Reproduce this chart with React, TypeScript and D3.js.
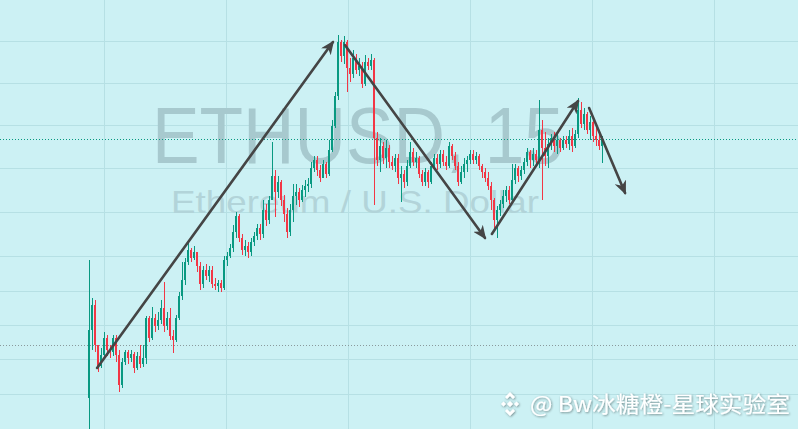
import { useEffect } from 'react'
import * as d3 from 'd3'

const W = 798
const H = 429

// 15m ETHUSD candles, open = previous close
const firstOpen = 1602
const closes = [
  1670, 1695, 1655, 1634, 1645, 1662, 1650, 1648, 1662, 1645, 1615, 1638, 1648, 1642, 1646, 1632, 1644, 1636, 1642, 1682,
  1662, 1682, 1674, 1680, 1692, 1674, 1682, 1664, 1660, 1682, 1704, 1720, 1738, 1750, 1742, 1748, 1734, 1716, 1730, 1724,
  1730, 1716, 1714, 1717, 1712, 1740, 1744, 1752, 1768, 1784, 1762, 1750, 1754, 1748, 1758, 1764, 1772, 1766, 1790, 1780,
  1800, 1824, 1808, 1818, 1800, 1786, 1768, 1790, 1804, 1808, 1800, 1810, 1814, 1816, 1832, 1840, 1830, 1822, 1836, 1826,
  1850, 1874, 1904, 1958, 1944, 1958, 1932, 1926, 1942, 1930, 1934, 1916, 1938, 1934, 1940, 1862, 1840, 1854, 1842, 1852,
  1838, 1834, 1842, 1822, 1826, 1818, 1834, 1848, 1838, 1842, 1826, 1818, 1828, 1818, 1834, 1842, 1836, 1846, 1838, 1834,
  1854, 1844, 1834, 1818, 1828, 1836, 1840, 1846, 1840, 1844, 1834, 1828, 1822, 1814, 1800, 1780, 1790, 1796, 1804, 1810,
  1800, 1820, 1832, 1824, 1830, 1838, 1848, 1840, 1846, 1840, 1870, 1852, 1844, 1856, 1862, 1854, 1860, 1852, 1860, 1856,
  1864, 1854, 1866, 1890, 1876, 1886, 1870, 1878, 1864, 1860, 1854, 1860,
]
const highs = [
  1740, 1702, 1700, 1655, 1652, 1668, 1665, 1655, 1665, 1665, 1650, 1642, 1650, 1650, 1650, 1648, 1648, 1655, 1655, 1684,
  1684, 1693, 1686, 1688, 1700, 1718, 1688, 1692, 1670, 1685, 1708, 1738, 1742, 1760, 1752, 1754, 1748, 1738, 1734, 1736,
  1734, 1734, 1722, 1720, 1720, 1744, 1748, 1756, 1775, 1788, 1786, 1766, 1760, 1758, 1762, 1768, 1776, 1776, 1800, 1796,
  1804, 1858, 1830, 1824, 1820, 1805, 1792, 1796, 1816, 1816, 1812, 1815, 1820, 1822, 1838, 1844, 1844, 1835, 1840, 1838,
  1860, 1880, 1908, 1965, 1960, 1964, 1960, 1942, 1950, 1946, 1942, 1938, 1945, 1942, 1946, 1942, 1868, 1862, 1858, 1860,
  1855, 1844, 1846, 1846, 1834, 1830, 1840, 1858, 1852, 1848, 1844, 1830, 1832, 1830, 1838, 1846, 1846, 1850, 1850, 1844,
  1858, 1856, 1848, 1838, 1834, 1842, 1844, 1850, 1850, 1848, 1846, 1836, 1832, 1828, 1818, 1802, 1794, 1800, 1810, 1814,
  1814, 1836, 1836, 1834, 1834, 1842, 1852, 1850, 1852, 1850, 1900, 1880, 1868, 1862, 1866, 1868, 1866, 1862, 1864, 1864,
  1870, 1872, 1870, 1902, 1898, 1892, 1888, 1884, 1882, 1874, 1866, 1864,
]
const lows = [
  1568, 1650, 1648, 1628, 1632, 1642, 1644, 1642, 1644, 1638, 1608, 1612, 1635, 1636, 1638, 1627, 1630, 1632, 1633, 1636,
  1658, 1660, 1668, 1670, 1676, 1668, 1670, 1660, 1647, 1658, 1680, 1700, 1715, 1735, 1738, 1740, 1728, 1710, 1712, 1720,
  1718, 1712, 1710, 1708, 1708, 1710, 1734, 1742, 1748, 1762, 1758, 1745, 1744, 1742, 1744, 1754, 1760, 1760, 1762, 1774,
  1776, 1800, 1783, 1802, 1794, 1778, 1762, 1764, 1778, 1795, 1793, 1798, 1803, 1808, 1812, 1828, 1824, 1818, 1822, 1822,
  1824, 1848, 1872, 1900, 1938, 1936, 1908, 1918, 1922, 1926, 1924, 1912, 1914, 1930, 1930, 1795, 1834, 1828, 1836, 1832,
  1832, 1830, 1828, 1816, 1798, 1812, 1814, 1832, 1834, 1832, 1822, 1814, 1814, 1812, 1816, 1830, 1830, 1832, 1834, 1830,
  1832, 1840, 1830, 1814, 1816, 1822, 1828, 1836, 1836, 1836, 1830, 1822, 1818, 1810, 1790, 1772, 1762, 1784, 1792, 1798,
  1796, 1798, 1816, 1818, 1820, 1826, 1834, 1832, 1834, 1834, 1832, 1800, 1834, 1832, 1850, 1848, 1846, 1848, 1850, 1852,
  1850, 1848, 1852, 1862, 1872, 1870, 1866, 1860, 1858, 1854, 1850, 1837,
]

// price gridlines and time gridlines (candle index units)
const priceGrid = [1959, 1917, 1875, 1832, 1788, 1744, 1709, 1675, 1641, 1606]
const timeGrid = [5, 45.67, 86.33, 127, 167.67, 208.33]
const lastPrice = 1861
const refPrice = 1655

// drawn arrows: [fromIndex, fromPrice, toIndex, toPrice]
const arrows = [
  [2.7, 1632, 81.3, 1958],
  [85.3, 1955, 132, 1762],
  [134.3, 1766, 163, 1899],
  [166.7, 1892, 178.7, 1807],
]

const UP = '#089981'
const DOWN = '#f23645'

export default function App() {
  useEffect(() => {
    document.body.style.margin = '0'
  }, [])

  const x = d3.scaleLinear().domain([0, closes.length - 1]).range([89, 602])
  const y = d3.scaleLinear().domain([1571, 2000]).range([H, 0])

  const candles = closes.map((c, i) => {
    const o = i === 0 ? firstOpen : closes[i - 1]
    return { i, o, c, h: highs[i], l: lows[i] }
  })

  return (
    <svg width={W} height={H} style={{ display: 'block', position: 'absolute', left: 0, top: 0 }}>
      <defs>
        <marker id="head" viewBox="0 0 14 12" markerWidth={14} markerHeight={12} refX={12} refY={6}
          orient="auto" markerUnits="userSpaceOnUse">
          <path d="M0,0 L14,6 L0,12 L4,6 Z" fill="#454545" />
        </marker>
        <filter id="shadow" x="-10%" y="-30%" width="120%" height="160%">
          <feDropShadow dx="0.8" dy="0.8" stdDeviation="0.8" floodColor="#000" floodOpacity="0.45" />
        </filter>
      </defs>
      <rect width={W} height={H} fill="#ccf1f4" />

      {/* grid */}
      <g stroke="#b6e0e4" strokeWidth={1} shapeRendering="crispEdges">
        {priceGrid.map(p => (
          <line key={p} x1={0} x2={W} y1={Math.round(y(p)) + 0.5} y2={Math.round(y(p)) + 0.5} />
        ))}
        {timeGrid.map(t => (
          <line key={t} y1={0} y2={H} x1={Math.round(x(t)) + 0.5} x2={Math.round(x(t)) + 0.5} />
        ))}
      </g>

      {/* watermark */}
      <text x={152} y={163} fontFamily="Liberation Sans, Arial, sans-serif" fontSize={79}
        fill="#a7c9ce" textLength={412} lengthAdjust="spacingAndGlyphs">ETHUSD, 15</text>
      <text x={171} y={213} fontFamily="Liberation Sans, Arial, sans-serif" fontSize={32}
        fill="#b2d4d9" textLength={368} lengthAdjust="spacingAndGlyphs">Ethereum / U.S. Dollar</text>

      {/* price lines */}
      <line x1={0} x2={W} y1={Math.round(y(lastPrice)) + 0.5} y2={Math.round(y(lastPrice)) + 0.5}
        stroke={UP} strokeWidth={1} strokeDasharray="1 2" shapeRendering="crispEdges" />
      <line x1={0} x2={W} y1={Math.round(y(refPrice)) + 0.5} y2={Math.round(y(refPrice)) + 0.5}
        stroke="#8a9a9c" strokeWidth={1} strokeDasharray="1 2" shapeRendering="crispEdges" />

      {/* candles */}
      <g shapeRendering="crispEdges">
        {candles.map(d => {
          const xc = Math.round(x(d.i))
          const col = d.c >= d.o ? UP : DOWN
          const top = y(Math.max(d.o, d.c))
          const bh = Math.max(1, Math.abs(y(d.o) - y(d.c)))
          return (
            <g key={d.i} fill={col}>
              <rect x={xc} y={y(d.h)} width={1} height={y(d.l) - y(d.h)} />
              <rect x={xc - 1} y={top} width={2} height={bh} />
            </g>
          )
        })}
      </g>

      {/* arrows */}
      <g stroke="#454545" strokeWidth={2.6} strokeLinecap="round">
        {arrows.map((a, k) => (
          <line key={k} x1={x(a[0])} y1={y(a[1])} x2={x(a[2])} y2={y(a[3])} markerEnd="url(#head)" />
        ))}
      </g>

      {/* author watermark */}
      <g filter="url(#shadow)" fill="#ffffff">
        <g transform="translate(510,404)">
          <path d="M0,-12 L5,-7 L3,-5 L0,-8 L-3,-5 L-5,-7 Z" />
          <path d="M0,12 L5,7 L3,5 L0,8 L-3,5 L-5,7 Z" />
          <path d="M0,-3 L3,0 L0,3 L-3,0 Z" />
          <path d="M-9,0 L-6.5,-2.5 L-4,0 L-6.5,2.5 Z" />
          <path d="M9,0 L6.5,-2.5 L4,0 L6.5,2.5 Z" />
        </g>
        <text x={530} y={412} fontFamily="Noto Sans CJK SC, Noto Sans, sans-serif" fontSize={22}
          textLength={260} lengthAdjust="spacingAndGlyphs">@ Bw冰糖橙-星球实验室</text>
      </g>
    </svg>
  )
}
